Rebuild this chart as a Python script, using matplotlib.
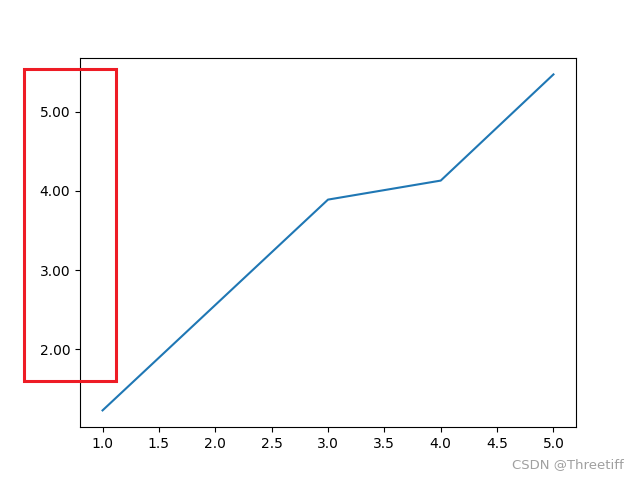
import numpy as np
import matplotlib as m
m.use('Agg')
import matplotlib.pyplot as plt
from matplotlib.ticker import FormatStrFormatter
from matplotlib.patches import Rectangle

x = [1, 2, 3, 4, 5]
y = [1.23, 2.56, 3.89, 4.13, 5.47]
watermark = 'CSDN @Threetiff'


def main():
  fig = plt.figure(figsize=(6.4, 4.8), dpi=100)
  axPlot = fig.add_subplot(1, 1, 1)
  axPlot.plot(x, y)
  axPlot.yaxis.set_major_formatter(FormatStrFormatter('%.2f'))
  axPlot.set_yticks([2, 3, 4, 5])

  # red box around the y tick labels (figure pixels)
  fig.patches.append(Rectangle((24 / 640, 1 - 381 / 480), 92 / 640, 312 / 480,
                               transform=fig.transFigure, fill=False,
                               edgecolor='#ee1c25', linewidth=2.2, zorder=10))

  fig.text(624 / 640, 1 - 465 / 480, watermark, ha='right', va='center',
           color='#a0a0a0', fontsize=9.5)

  plt.savefig('out.png')


if __name__ == '__main__':
  main()
